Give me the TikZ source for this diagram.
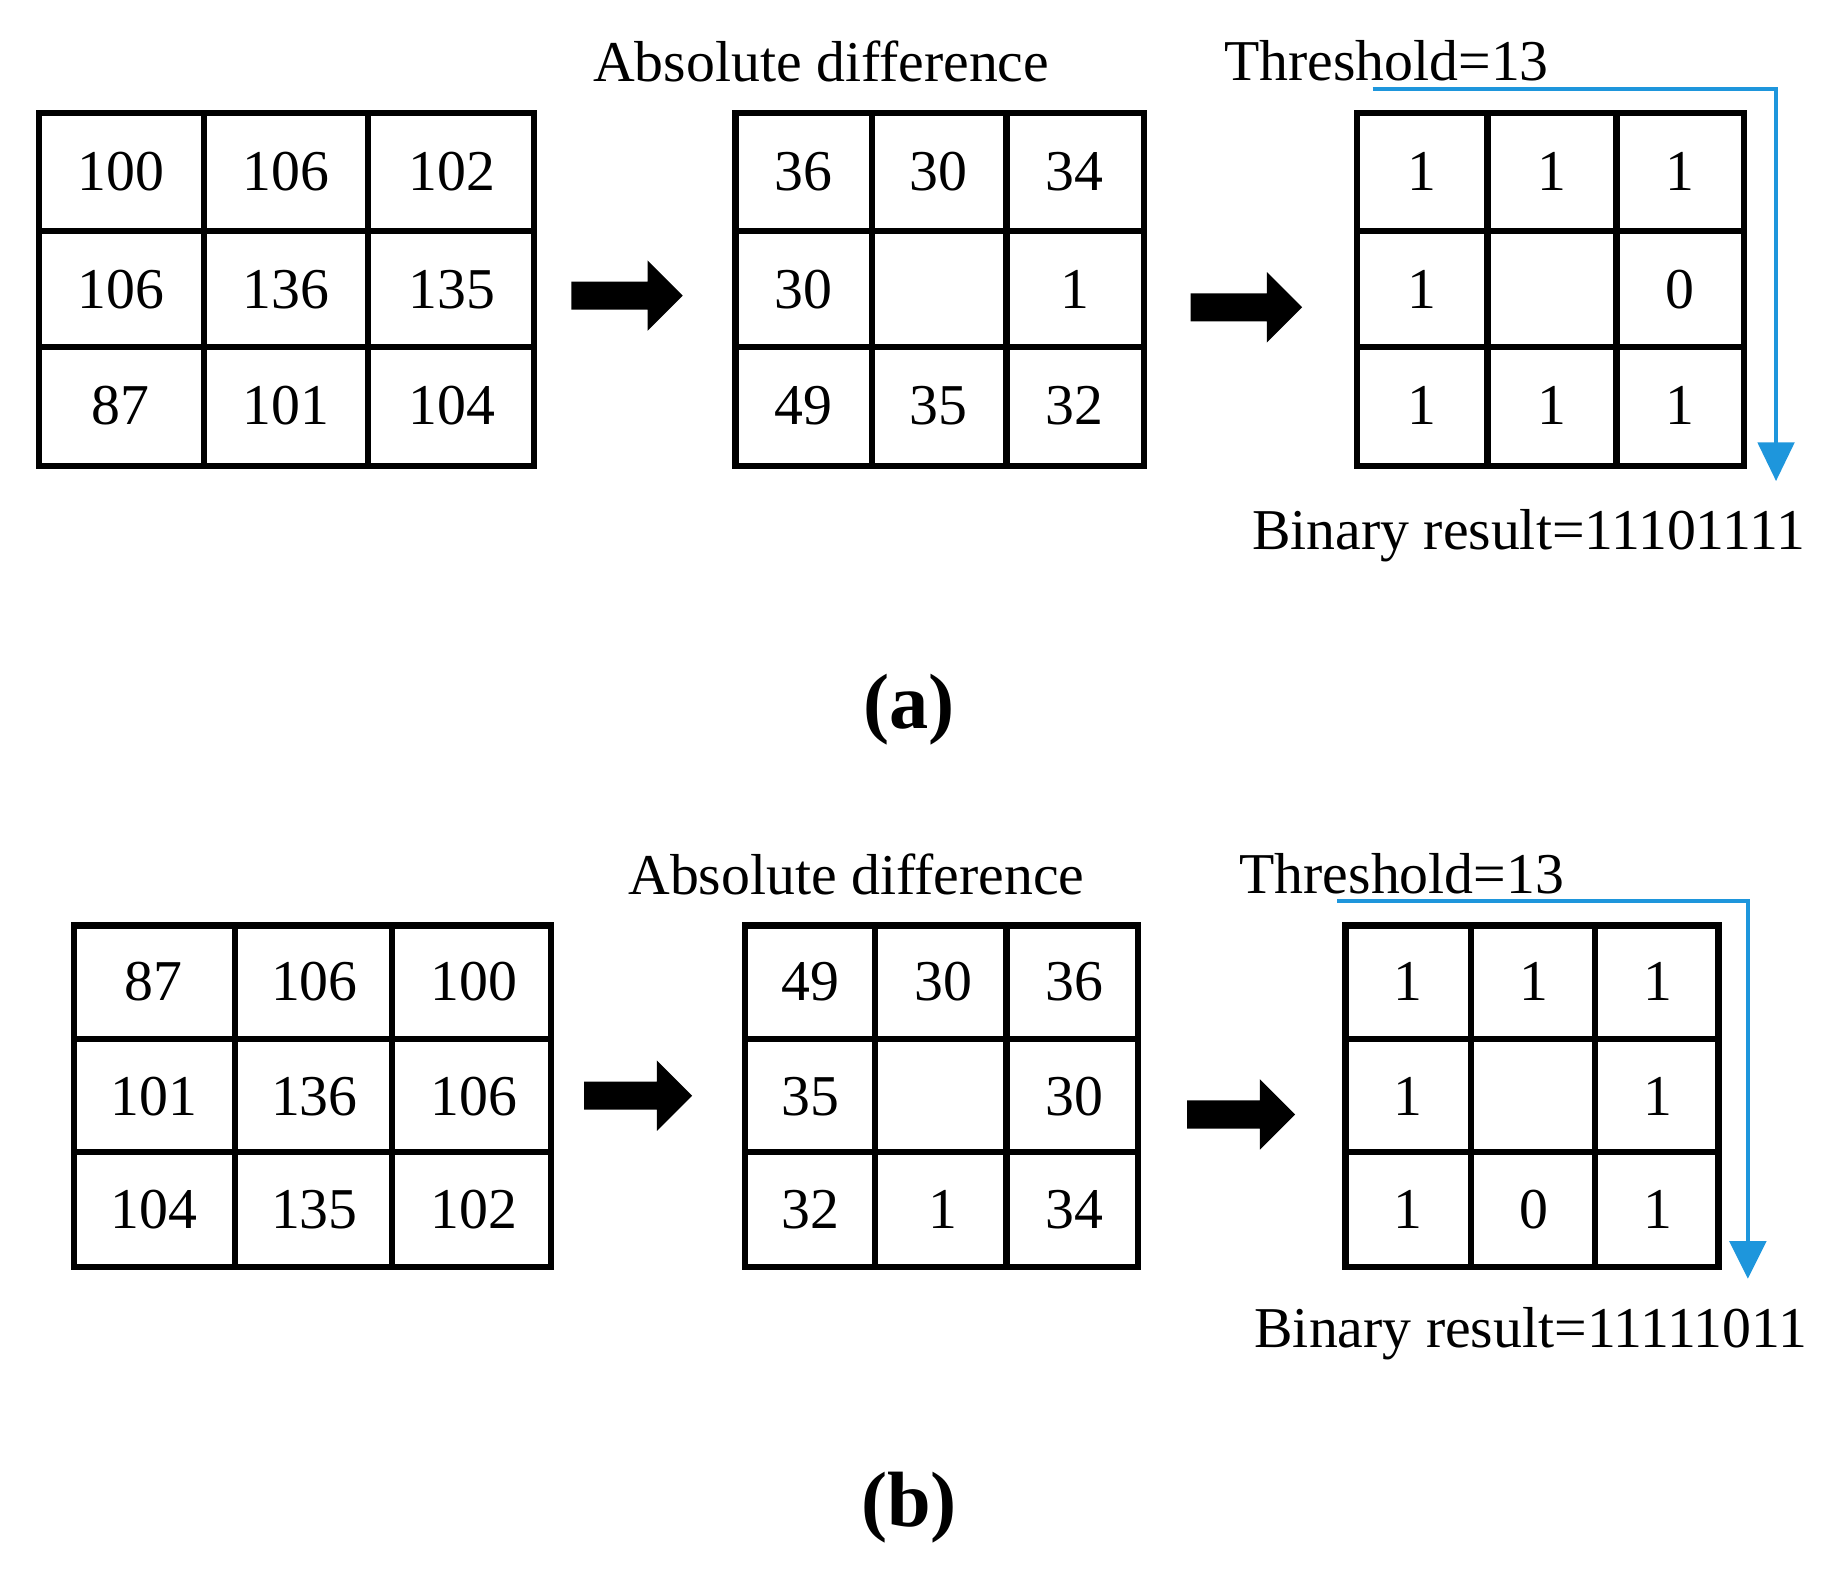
\documentclass[tikz,border=0pt]{standalone}
\usepackage{fontspec}
\setmainfont{Liberation Serif}
\definecolor{lblue}{RGB}{30,150,220}
\begin{document}
\begin{tikzpicture}[x=0.01cm,y=-0.01cm,
  grid/.style={line width=1.5pt},
  num/.style={font=\fontsize{14}{14}\selectfont},
  lab/.style={font=\fontsize{14}{14}\selectfont},
  capt/.style={font=\fontsize{19}{19}\selectfont\bfseries},
  bl/.style={draw=lblue,line width=1pt},
  blt/.style={fill=lblue}]
\useasboundingbox (0,0) rectangle (1560,1345);
\newcommand\mygrid[8]{%
  \draw[grid] (#1,#5) rectangle (#4,#8);
  \draw[grid] (#2,#5)--(#2,#8) (#3,#5)--(#3,#8) (#1,#6)--(#4,#6) (#1,#7)--(#4,#7);}
\newcommand\blockarrow[3]{% x1 x2 y
  \fill (#1,#3-12) -- (#2-30,#3-12) -- (#2-30,#3-30) -- (#2,#3) -- (#2-30,#3+30) -- (#2-30,#3+12) -- (#1,#3+12) -- cycle;}
% ---- (a)
\mygrid{33}{174}{314}{455}{96}{197}{296}{397}
\mygrid{627}{743}{858}{975}{96}{197}{296}{397}
\mygrid{1157}{1268}{1378}{1487}{96}{197}{296}{397}
\foreach \t [count=\i from 0] in {100,106,102,106,136,135,87,101,104}{
  \pgfmathsetmacro\xx{{103,244,385}[mod(\i,3)]}
  \pgfmathsetmacro\yy{{146,247,346}[int(\i/3)]}
  \node[num] (a1\i) at (\xx,\yy) {\t};}
\foreach \t [count=\i from 0] in {36,30,34,30,,1,49,35,32}{
  \pgfmathsetmacro\xx{{685,800,916}[mod(\i,3)]}
  \pgfmathsetmacro\yy{{146,247,346}[int(\i/3)]}
  \node[num] (a2\i) at (\xx,\yy) {\t};}
\foreach \t [count=\i from 0] in {1,1,1,1,,0,1,1,1}{
  \pgfmathsetmacro\xx{{1212,1323,1432}[mod(\i,3)]}
  \pgfmathsetmacro\yy{{146,247,346}[int(\i/3)]}
  \node[num] (a3\i) at (\xx,\yy) {\t};}
\blockarrow{487}{582}{252}
\blockarrow{1015}{1110}{262}
\node[lab] (la1) at (700,52) {Absolute difference};
\node[lab] (la2) at (1182,52) {Threshold=13};
\node[lab] (la3) at (1303,457) {Binary result=11101111};
\node[capt] (ca) at (775,605) {(a)};
\draw[bl] (1170,76) -- (1514,76) -- (1514,385);
\fill[blt] (1498,377) -- (1530,377) -- (1514,410) -- cycle;
% ---- (b)
\mygrid{63}{200}{334}{470}{789}{886}{982}{1080}
\mygrid{635}{746}{858}{970}{789}{886}{982}{1080}
\mygrid{1147}{1254}{1360}{1465}{789}{886}{982}{1080}
\foreach \t [count=\i from 0] in {87,106,100,101,136,106,104,135,102}{
  \pgfmathsetmacro\xx{{131,268,404}[mod(\i,3)]}
  \pgfmathsetmacro\yy{{837,935,1031}[int(\i/3)]}
  \node[num] (b1\i) at (\xx,\yy) {\t};}
\foreach \t [count=\i from 0] in {49,30,36,35,,30,32,1,34}{
  \pgfmathsetmacro\xx{{691,804,916}[mod(\i,3)]}
  \pgfmathsetmacro\yy{{837,935,1031}[int(\i/3)]}
  \node[num] (b2\i) at (\xx,\yy) {\t};}
\foreach \t [count=\i from 0] in {1,1,1,1,,1,1,0,1}{
  \pgfmathsetmacro\xx{{1200,1308,1413}[mod(\i,3)]}
  \pgfmathsetmacro\yy{{837,935,1031}[int(\i/3)]}
  \node[num] (b3\i) at (\xx,\yy) {\t};}
\blockarrow{498}{590}{934}
\blockarrow{1012}{1104}{950}
\node[lab] (lb1) at (730,745) {Absolute difference};
\node[lab] (lb2) at (1195,745) {Threshold=13};
\node[lab] (lb3) at (1305,1137) {Binary result=11111011};
\node[capt] (cb) at (775,1285) {(b)};
\draw[bl] (1140,768) -- (1490,768) -- (1490,1065);
\fill[blt] (1474,1058) -- (1506,1058) -- (1490,1090) -- cycle;
\end{tikzpicture}
\end{document}
